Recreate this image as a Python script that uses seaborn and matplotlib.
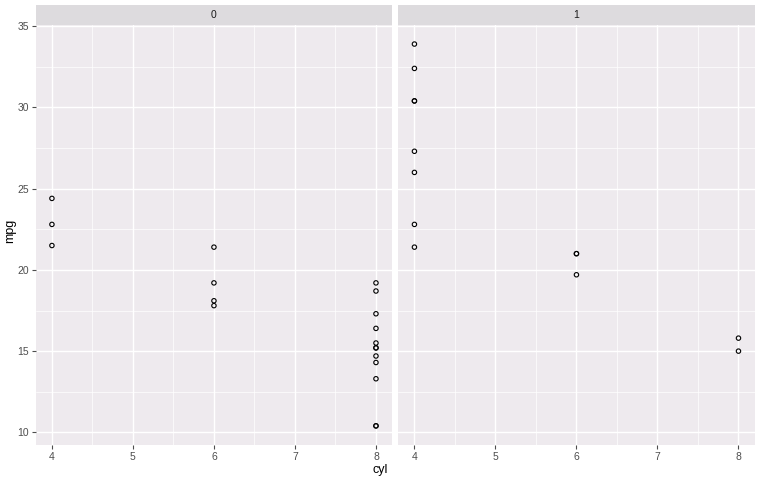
import numpy as np
import pandas as pd
import seaborn as sns
import matplotlib
matplotlib.use("Agg")
from matplotlib import pyplot as plt
from matplotlib.patches import Rectangle
from matplotlib.ticker import MultipleLocator

# mtcars: cyl vs mpg, split by transmission (am)
cyl_am0 = [6, 8, 6, 8, 4, 4, 6, 6, 8, 8, 8, 8, 8, 8, 4, 8, 8, 8, 8]
mpg_am0 = [21.4, 18.7, 18.1, 14.3, 24.4, 22.8, 19.2, 17.8, 16.4, 17.3,
           15.2, 10.4, 10.4, 14.7, 21.5, 15.5, 15.2, 13.3, 19.2]
cyl_am1 = [6, 6, 4, 4, 4, 4, 4, 4, 4, 8, 6, 8, 4]
mpg_am1 = [21.0, 21.0, 22.8, 32.4, 30.4, 33.9, 27.3, 26.0, 30.4, 15.8,
           19.7, 15.0, 21.4]

df = pd.DataFrame({
    "cyl": cyl_am0 + cyl_am1,
    "mpg": mpg_am0 + mpg_am1,
    "am": [0] * len(cyl_am0) + [1] * len(cyl_am1),
})

panel_bg = "#EEEAEE"
strip_bg = "#DDDBDE"
text_col = "#4D4D4D"

sns.set_theme(style="white")
plt.rcParams["font.family"] = ["Liberation Sans", "DejaVu Sans"]

g = sns.FacetGrid(df, col="am", height=4.8, aspect=760 / 480 / 2, sharex=True, sharey=True)
g.map_dataframe(sns.scatterplot, x="cyl", y="mpg", s=10, facecolor="none",
                edgecolor="black", linewidth=0.8, zorder=3)
g.figure.set_size_inches(7.6, 4.8)
g.figure.subplots_adjust(left=0.047, right=0.993, top=0.948, bottom=0.073, wspace=0.017)

for ax, lab in zip(g.axes.flat, ["0", "1"]):
    ax.set_facecolor(panel_bg)
    for s in ax.spines.values():
        s.set_visible(False)
    ax.set_xlim(3.8, 8.2)
    ax.set_ylim(9.225, 35.075)
    ax.xaxis.set_major_locator(MultipleLocator(1))
    ax.xaxis.set_minor_locator(MultipleLocator(0.5))
    ax.yaxis.set_major_locator(MultipleLocator(5))
    ax.yaxis.set_minor_locator(MultipleLocator(2.5))
    ax.grid(which="major", color="white", linewidth=1.0)
    ax.grid(which="minor", color="white", linewidth=0.5)
    ax.set_axisbelow(True)
    ax.tick_params(which="major", length=3, width=0.8, color=text_col,
                   labelcolor=text_col, labelsize=7.5, pad=2,
                   bottom=True, left=True)
    ax.tick_params(which="minor", length=0)
    ax.set_title("")
    ax.add_patch(Rectangle((0, 1), 1, 20 / 420, transform=ax.transAxes,
                           facecolor=strip_bg, edgecolor="none", clip_on=False))
    ax.text(0.5, 1 + 10 / 420, lab, transform=ax.transAxes, ha="center",
            va="center", fontsize=7.5, color="#1A1A1A")
    ax.set_xlabel("")
    ax.set_ylabel("")

g.axes.flat[1].tick_params(axis="y", left=False, labelleft=False)
g.figure.text(0.5, 0.02, "cyl", ha="center", va="center", fontsize=9, color="black")
g.figure.text(0.014, 0.52, "mpg", ha="center", va="center", rotation=90, fontsize=9, color="black")

g.figure.savefig("out.png", dpi=100)
